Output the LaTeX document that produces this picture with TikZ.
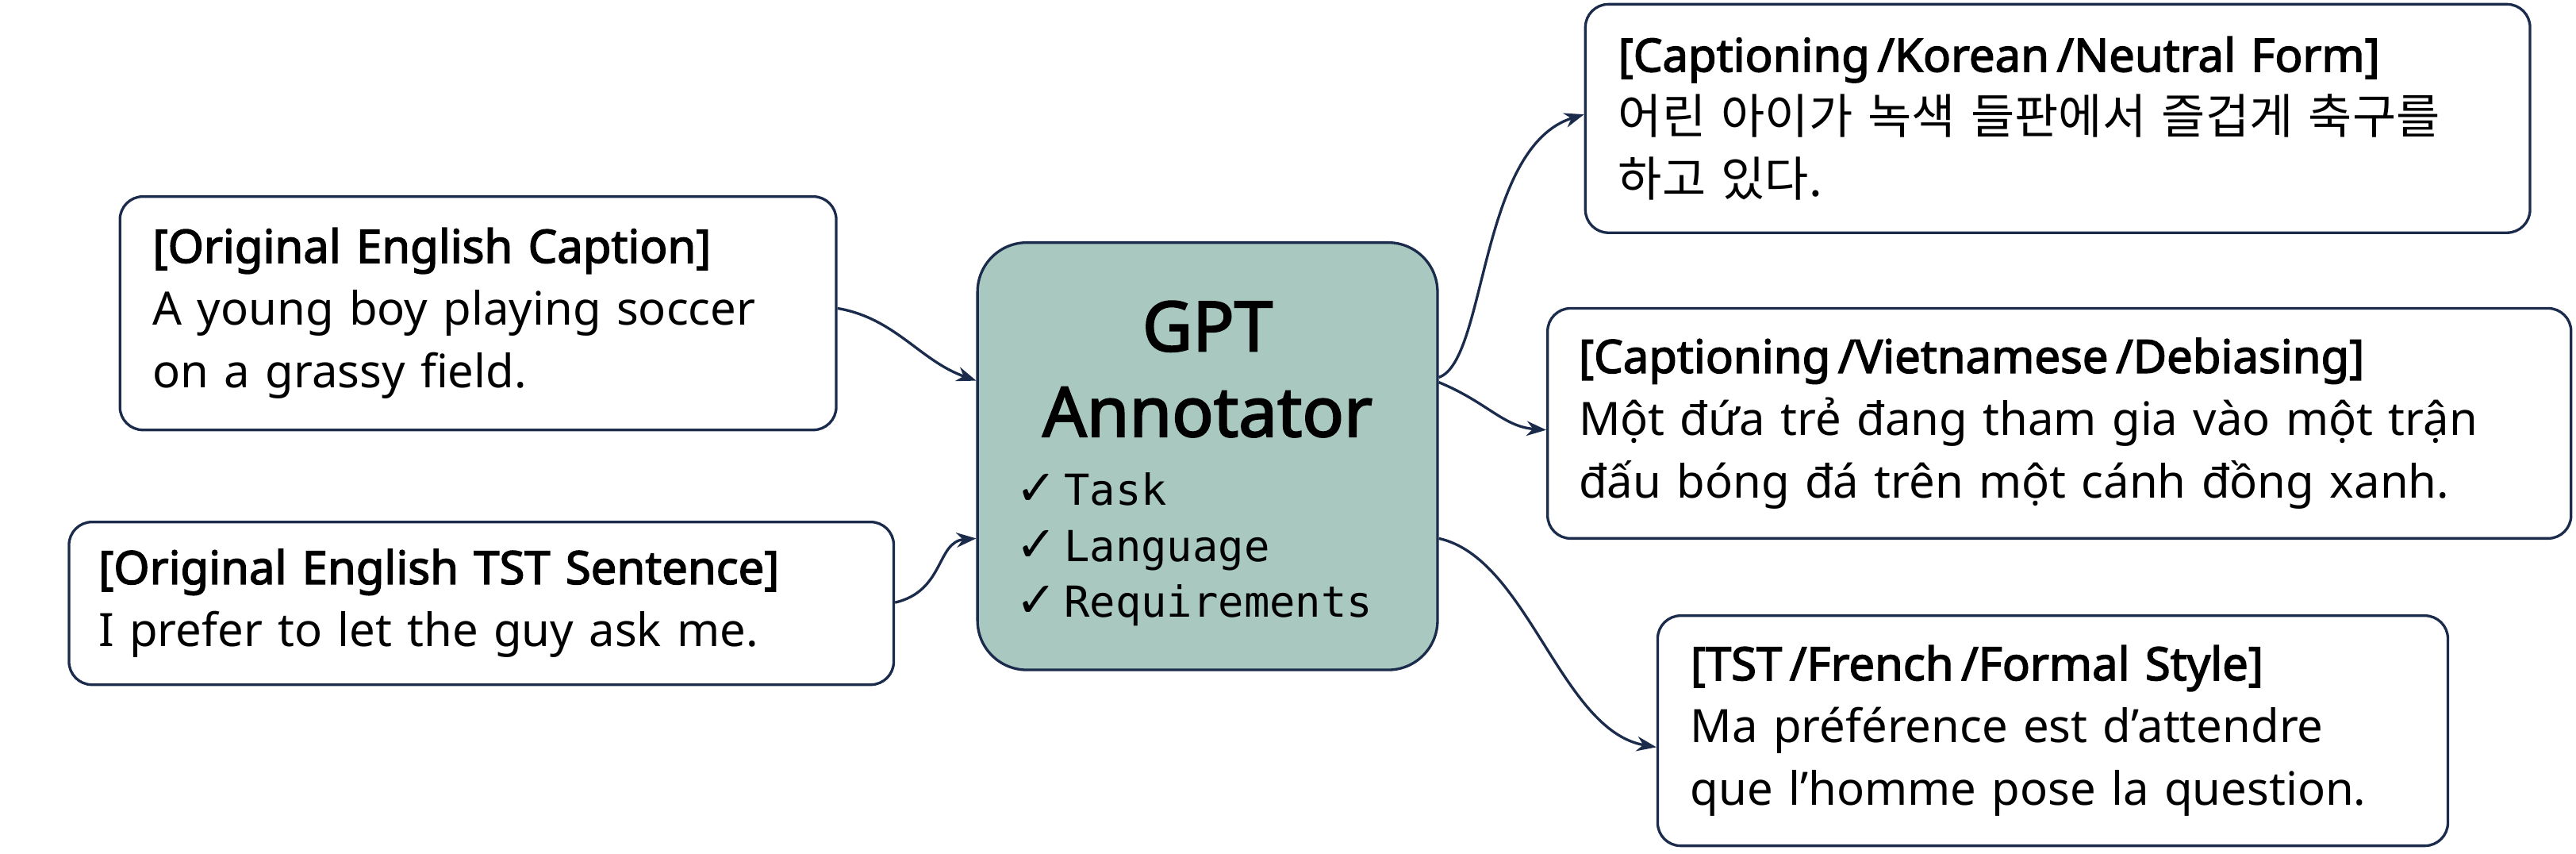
\documentclass[tikz,border=0pt]{standalone}
\usepackage{fontspec}
\setmainfont{Noto Sans}[BoldFont={Noto Sans},BoldFeatures={FakeBold=2.5}]
\setmonofont{DejaVu Sans Mono}
\newfontfamily\krfont{Noto Sans CJK KR}
\newfontfamily\symfont{DejaVu Sans}
\usetikzlibrary{arrows.meta}
\definecolor{navy}{HTML}{1A2B4C}
\definecolor{teal}{HTML}{A8C8C0}
\tikzset{
 box/.style={draw=navy,line width=1.6pt,rounded corners=14pt,fill=white,align=left,inner sep=0pt,font=\fontsize{28}{38}\selectfont},
 conn/.style={draw=navy,line width=1.6pt,-{Stealth[length=12pt,width=9pt]}}
}
\begin{document}
\begin{tikzpicture}[x=1pt,y=1pt]
\useasboundingbox (0,0) rectangle (1568,519.6);
\node[box,minimum width=436,minimum height=142,text width=396] (cap) at (291,329) {\textbf{[Original English Caption]}\\A young boy playing soccer\\on a grassy field.};
\node[box,minimum width=502,minimum height=99,text width=466] (tst) at (293,152.5) {\textbf{[Original English TST Sentence]}\\I prefer to let the guy ask me.};
\node[box,fill=teal,minimum width=280,minimum height=260,rounded corners=30pt] (gpt) at (735,242) {};
\node[font=\bfseries\fontsize{42}{52}\selectfont,align=center] (gt) at (735,295) {GPT\\Annotator};
\node[anchor=north west,align=left,font=\fontsize{26}{34}\selectfont,inner sep=0pt] (chk) at (618,232) {{\symfont\fontsize{30}{34}\selectfont ✓}\,\texttt{Task}\\{\symfont\fontsize{30}{34}\selectfont ✓}\,\texttt{Language}\\{\symfont\fontsize{30}{34}\selectfont ✓}\,\texttt{Requirements}};
\node[box,minimum width=575,minimum height=139,text width=535] (kr) at (1252.5,447.5) {\textbf{[Captioning\,/Korean\,/Neutral Form]}\\{\krfont\fontsize{29}{38}\selectfont 어린 아이가 녹색 들판에서 즐겁게 축구를}\\{\krfont\fontsize{29}{38}\selectfont 하고 있다.}};
\node[box,minimum width=623,minimum height=140,text width=585] (vi) at (1253.5,262) {\textbf{[Captioning\,/Vietnamese\,/Debiasing]}\\Một đứa trẻ đang tham gia vào một trận\\đấu bóng đá trên một cánh đồng xanh.};
\node[box,minimum width=481,minimum height=140,text width=441] (fr) at (1249.5,75) {\textbf{[TST\,/French\,/Formal Style]}\\Ma préférence est d\symbol{39}attendre\\que l\symbol{39}homme pose la question.};
\draw[conn] (cap.east|-0,332) .. controls (545,326) and (560,300) .. (gpt.west|-0,288);
\draw[conn] (tst.east|-0,153) .. controls (575,160) and (570,190) .. (gpt.west|-0,192);
\draw[conn] (gpt.east|-0,290) .. controls (905,300) and (900,430) .. (kr.west|-0,450);
\draw[conn] (gpt.east|-0,287) .. controls (905,275) and (915,260) .. (vi.west|-0,258);
\draw[conn] (gpt.east|-0,192) .. controls (930,180) and (950,75) .. (fr.west|-0,65);
\end{tikzpicture}
\end{document}
